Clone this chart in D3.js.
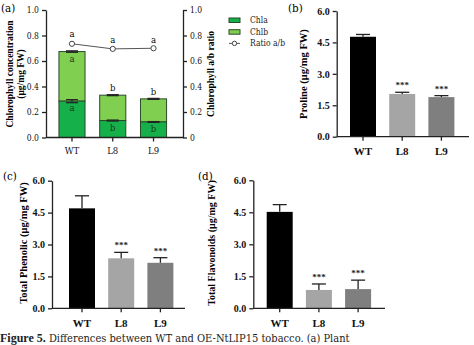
<!DOCTYPE html>
<html>
<head>
<meta charset="utf-8">
<script src="https://cdn.jsdelivr.net/npm/d3@7"></script>
<style>
  body { margin: 0; background: #fff; }
  svg { font-family: "DejaVu Serif Condensed", "DejaVu Serif", serif; }
  .b { font-family: "Liberation Serif", "DejaVu Serif", serif; font-weight: bold; }
</style>
</head>
<body>
<script>
const width = 474, height = 345;

// panel (a) chlorophyll
const lines = ["WT", "L8", "L9"];
const chla = [0.285, 0.133, 0.122];
const chlaErr = [0.012, 0.004, 0.003];
const chlb = [0.389, 0.199, 0.181];
const totalErr = [0.006, 0.004, 0.004];
const ratio = [0.735, 0.695, 0.70];
const ratioErr = [0.015, 0.004, 0.004];
const ratioLetters = ["a", "a", "a"];
const totalLetters = ["a", "b", "b"];
const chlaLetters = ["a", "b", "b"];

// panels (b)-(d)
const proline = [4.77, 2.04, 1.89];
const prolineErr = [0.11, 0.08, 0.07];
const phenolic = [4.70, 2.35, 2.14];
const phenolicErr = [0.59, 0.28, 0.24];
const flavonoids = [4.52, 0.86, 0.90];
const flavonoidsErr = [0.34, 0.28, 0.42];
const stars = ["", "***", "***"];
const ticks6 = [0, 1.5, 3, 4.5, 6];

const barColors = ["#000000", "#a5a5a5", "#7f7f7f"];
const green1 = "#15b04a", green2 = "#80cf50";

const svg = d3.select("body").append("svg")
    .attr("width", width)
    .attr("height", height);

function styleAxis(g, bold, fs) {
  g.attr("font-family", null).attr("font-size", null);
  g.select(".domain").attr("stroke", "#222").attr("stroke-width", 1.3);
  g.selectAll(".tick line").attr("stroke", "#222").attr("stroke-width", 1.3);
  g.selectAll(".tick text")
    .attr("fill", "#111")
    .classed("b", bold)
    .style("font-size", fs + "px");
}

// ---------- panel (a) ----------
{
  const x0 = 46, x1 = 183, yTop = 10, yBot = 137.5;
  const y = d3.scaleLinear([0, 1], [yBot, yTop]);
  const x = d3.scaleBand(lines, [x0 + 6, x0 + 6 + 3 * 40.5]).paddingInner(0.36).paddingOuter(0.17);
  const g = svg.append("g");

  const stacks = lines.map((d, i) => ({k: d, a: chla[i], t: chla[i] + chlb[i]}));

  g.selectAll(".chlb").data(stacks).join("rect")
      .attr("x", d => x(d.k)).attr("width", x.bandwidth())
      .attr("y", d => y(d.t)).attr("height", d => y(d.a) - y(d.t))
      .attr("fill", green2).attr("stroke", "#2a4a2a").attr("stroke-width", 1);
  g.selectAll(".chla").data(stacks).join("rect")
      .attr("x", d => x(d.k)).attr("width", x.bandwidth())
      .attr("y", d => y(d.a)).attr("height", d => y(0) - y(d.a))
      .attr("fill", green1).attr("stroke", "#2a4a2a").attr("stroke-width", 1);

  // error bars
  const errs = [];
  stacks.forEach((d, i) => {
    errs.push({k: d.k, v: d.a, e: chlaErr[i]});
    errs.push({k: d.k, v: d.t, e: totalErr[i]});
  });
  errs.forEach(d => {
    const cx = x(d.k) + x.bandwidth() / 2;
    g.append("line").attr("x1", cx).attr("x2", cx)
      .attr("y1", y(d.v - d.e)).attr("y2", y(d.v + d.e)).attr("stroke", "#222");
    [d.v - d.e, d.v + d.e].forEach(v => g.append("line")
      .attr("x1", cx - 6).attr("x2", cx + 6).attr("y1", y(v)).attr("y2", y(v))
      .attr("stroke", "#222").attr("stroke-width", 1.2));
  });

  // ratio line (right axis, same 0-1 scale)
  const yr = d3.scaleLinear([0, 1], [yBot, yTop]);
  const cxs = lines.map(d => x(d) + x.bandwidth() / 2);
  g.append("path")
    .attr("d", d3.line().x((d, i) => cxs[i]).y(d => yr(d))(ratio))
    .attr("fill", "none").attr("stroke", "#555").attr("stroke-width", 1);
  ratio.forEach((v, i) => {
    g.append("line").attr("x1", cxs[i]).attr("x2", cxs[i])
      .attr("y1", yr(v - ratioErr[i])).attr("y2", yr(v + ratioErr[i])).attr("stroke", "#444");
    g.append("circle").attr("cx", cxs[i]).attr("cy", yr(v)).attr("r", 2.6)
      .attr("fill", "#fff").attr("stroke", "#444").attr("stroke-width", 1);
    g.append("text").attr("x", cxs[i]).attr("y", yr(v + ratioErr[i]) - 5)
      .attr("text-anchor", "middle").style("font-size", "9.5px").text(ratioLetters[i]);
  });

  // letters on bars
  stacks.forEach((d, i) => {
    const cx = cxs[i];
    const ty = i === 0 ? y(d.t) + 10 : y(d.t) - 4;
    g.append("text").attr("x", cx).attr("y", ty).attr("text-anchor", "middle")
      .attr("fill", i === 0 ? "#1a3a1a" : "#111").style("font-size", "9.5px").text(totalLetters[i]);
    g.append("text").attr("x", cx).attr("y", y(d.a) + 10).attr("text-anchor", "middle")
      .attr("fill", "#1a3a1a").style("font-size", "9.5px").text(chlaLetters[i]);
  });

  const ax = g.append("g").attr("transform", `translate(${x0},0)`)
      .call(d3.axisLeft(y).tickValues([0, .2, .4, .6, .8, 1]).tickFormat(d3.format(".1f")).tickSize(4).tickSizeOuter(0));
  styleAxis(ax, false, 8.5);
  const axr = g.append("g").attr("transform", `translate(${x1},0)`)
      .call(d3.axisRight(yr).tickValues([0, .2, .4, .6, .8, 1]).tickFormat(d => d === 0 ? "0" : d3.format(".1f")(d)).tickSize(4).tickSizeOuter(0));
  styleAxis(axr, false, 8.5);
  const axb = g.append("g").attr("transform", `translate(0,${yBot})`)
      .call(d3.axisBottom(x).tickSize(4).tickSizeOuter(0));
  axb.select(".domain").attr("d", `M${x0},0H${x1}`);
  styleAxis(axb, false, 9.5);
  axb.selectAll(".tick text").attr("dy", "0.95em");

  g.append("text").attr("class", "b").attr("transform", "translate(13,74) rotate(-90)")
    .attr("text-anchor", "middle").style("font-size", "9.5px")
    .text("Chlorophyll concentration");
  g.append("text").attr("class", "b").attr("transform", "translate(24,74) rotate(-90)")
    .attr("text-anchor", "middle").style("font-size", "9.5px")
    .text("(μg/mg FW)");
  g.append("text").attr("class", "b").attr("transform", "translate(214,74) rotate(-90)")
    .attr("text-anchor", "middle").style("font-size", "9.5px")
    .text("Chlorophyll a/b ratio");
  g.append("text").attr("x", 1).attr("y", 12).style("font-size", "11.5px").text("(a)");

  // legend
  const leg = [{t: "Chla", c: green1}, {t: "Chlb", c: green2}, {t: "Ratio a/b", c: null}];
  leg.forEach((d, i) => {
    const ly = 20 + i * 11.7;
    if (d.c) {
      g.append("rect").attr("x", 229).attr("y", ly - 2).attr("width", 11).attr("height", 4.5)
        .attr("fill", d.c).attr("stroke", "#2a4a2a").attr("stroke-width", 1);
    } else {
      g.append("line").attr("x1", 229).attr("x2", 240).attr("y1", ly).attr("y2", ly).attr("stroke", "#555");
      g.append("circle").attr("cx", 234.5).attr("cy", ly).attr("r", 2.2)
        .attr("fill", "#fff").attr("stroke", "#444");
    }
    g.append("text").attr("x", 250).attr("y", ly + 3).style("font-size", "8.5px").attr("fill", "#222").text(d.t);
  });
}

// ---------- panels (b)-(d) ----------
function barPanel(o) {
  const y = d3.scaleLinear([0, 6], [o.yBot, o.yTop]);
  const step = 39.2, bw = 26;
  const pad = 1 - bw / step;
  const r0 = o.x0 + o.off - step * pad / 2;
  const x = d3.scaleBand(lines, [r0, r0 + 3 * step]).paddingInner(pad).paddingOuter(pad / 2);
  const g = svg.append("g");

  g.selectAll("rect").data(lines).join("rect")
      .attr("x", d => x(d)).attr("width", x.bandwidth())
      .attr("y", (d, i) => y(o.vals[i])).attr("height", (d, i) => y(0) - y(o.vals[i]))
      .attr("fill", (d, i) => barColors[i]);

  lines.forEach((d, i) => {
    const cx = x(d) + x.bandwidth() / 2;
    const top = y(o.vals[i] + o.errs[i]);
    g.append("line").attr("x1", cx).attr("x2", cx).attr("y1", y(o.vals[i])).attr("y2", top)
      .attr("stroke", "#222").attr("stroke-width", 1.3);
    g.append("line").attr("x1", cx - 7).attr("x2", cx + 7).attr("y1", top).attr("y2", top)
      .attr("stroke", "#222").attr("stroke-width", 1.3);
    if (stars[i]) {
      g.append("text").attr("class", "b").attr("x", cx).attr("y", top - 4).attr("text-anchor", "middle")
        .style("font-size", "9px").attr("fill", "#222").text(stars[i]);
    }
  });

  const ax = g.append("g").attr("transform", `translate(${o.x0},0)`)
      .call(d3.axisLeft(y).tickValues(ticks6).tickFormat(d3.format(".1f")).tickSize(4).tickSizeOuter(0));
  styleAxis(ax, true, 10);
  const axb = g.append("g").attr("transform", `translate(0,${o.yBot})`)
      .call(d3.axisBottom(x).tickSize(4).tickSizeOuter(0));
  axb.select(".domain").attr("d", `M${o.x0},0H${o.xEnd}`);
  styleAxis(axb, true, 11);
  axb.selectAll(".tick text").attr("dy", "1.05em");

  g.append("text").attr("class", "b").attr("transform", `translate(${o.tx},${o.ty}) rotate(-90)`)
    .attr("text-anchor", "middle").style("font-size", o.fs + "px")
    .text(o.title);
  g.append("text").attr("x", o.lx).attr("y", o.ly).style("font-size", "11.5px").text(o.label);
}

barPanel({x0: 336.7, off: 13.3, xEnd: 469, yTop: 11, yBot: 136.7, vals: proline, errs: prolineErr,
  title: "Proline (μg/mg FW)", tx: 307, ty: 74, fs: 10.5, label: "(b)", lx: 288, ly: 12});
barPanel({x0: 52, off: 17, xEnd: 185, yTop: 180.7, yBot: 308.3, vals: phenolic, errs: phenolicErr,
  title: "Total Phenolic (μg/mg FW)", tx: 27, ty: 243, fs: 10.5, label: "(c)", lx: 3, ly: 180});
barPanel({x0: 253.3, off: 13.4, xEnd: 385, yTop: 180.3, yBot: 308.3, vals: flavonoids, errs: flavonoidsErr,
  title: "Total Flavonoids (μg/mg FW)", tx: 215, ty: 243, fs: 10, label: "(d)", lx: 198, ly: 180});

// caption at the bottom edge
svg.append("text").attr("x", 0).attr("y", 342).style("font-size", "11px").attr("fill", "#222")
  .html('<tspan class="b" style="font-size:12px">Figure 5.</tspan> Differences between WT and OE-NtLIP15 tobacco. (a) Plant');
</script>
</body>
</html>
